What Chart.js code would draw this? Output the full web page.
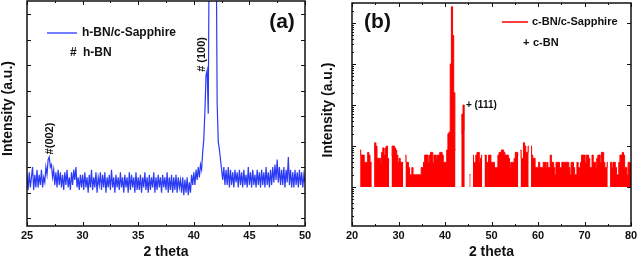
<!DOCTYPE html>
<html>
<head>
<meta charset="utf-8">
<script src="https://cdn.jsdelivr.net/npm/chart.js@4.4.1/dist/chart.umd.min.js"></script>
<style>
html, body { margin: 0; padding: 0; background: #fff; }
#wrap { position: relative; width: 641px; height: 265px; overflow: hidden; }
#chartA { position: absolute; left: 0; top: 0; }
#chartB { position: absolute; left: 320px; top: 0; }
</style>
</head>
<body>
<div id="wrap">
  <canvas id="chartA" width="320" height="265"></canvas>
  <canvas id="chartB" width="321" height="265"></canvas>
</div>
<script>
// (a) h-BN/c-Sapphire, read every 0.1 deg from 25.0 to 50.0 (arb. units)
const thetaStartA = 25, thetaStepA = 0.1;
const intensityA = [
  1.7,1.1,1.8,1.2,1.6,2.0,1.1,1.7,1.2,1.9,   // 25
  1.2,1.7,1.3,1.9,1.2,1.6,1.4,2.0,1.7,2.3,   // 26
  2.4,2.0,2.1,1.6,1.9,1.3,1.8,1.2,1.9,1.3,   // 27
  1.8,1.2,1.7,1.1,1.8,1.3,1.9,1.2,1.6,1.1,   // 28
  1.8,1.3,1.9,1.5,2.0,1.2,1.6,1.1,1.7,1.2,   // 29
  1.7,1.1,1.8,1.2,1.6,1.0,1.7,1.2,1.9,1.1,   // 30
  1.6,1.2,1.8,1.0,1.6,1.3,1.8,1.1,1.7,1.2,   // 31
  1.8,1.0,1.6,1.2,1.7,1.1,1.9,1.2,1.6,1.0,   // 32
  1.7,1.2,1.6,1.1,1.8,1.2,1.6,1.0,1.7,1.2,   // 33
  1.6,1.0,1.8,1.1,1.7,1.2,1.6,1.0,1.8,1.1,   // 34
  1.6,1.1,1.7,1.0,1.6,1.2,1.8,1.1,1.6,1.0,   // 35
  1.7,1.1,1.6,1.2,1.8,1.0,1.6,1.1,1.7,1.2,   // 36
  1.6,1.0,1.7,1.2,1.6,1.1,1.8,1.0,1.6,1.1,   // 37
  1.7,1.0,1.6,1.1,1.7,1.0,1.6,1.2,1.5,1.0,   // 38
  1.6,0.9,1.5,1.0,1.6,0.9,1.4,1.0,1.7,1.3,   // 39
  1.8,1.3,1.9,1.5,2.0,1.6,2.1,1.9,2.6,3.1,   // 40
  4.2,5.6,5.8,4.1,12,12,12,12,12,12,         // 41
  12,4.5,3.0,2.7,2.3,1.9,1.5,2.0,1.3,1.9,    // 42
  1.3,2.0,1.2,1.9,1.3,1.8,1.2,1.9,1.4,1.8,   // 43
  1.2,1.9,1.3,1.8,1.2,1.9,1.3,1.7,1.2,2.0,   // 44
  1.3,1.8,1.2,1.9,1.3,1.7,1.2,1.9,1.3,1.8,   // 45
  1.2,1.9,1.3,1.8,1.2,2.0,1.3,1.8,1.2,1.9,   // 46
  1.3,2.0,1.4,2.1,1.5,2.3,1.4,2.0,1.3,1.9,   // 47
  1.3,2.0,1.2,1.9,1.4,2.4,1.3,1.9,1.2,1.8,   // 48
  1.2,1.9,1.3,1.8,1.2,1.9,1.3,1.8,1.2,1.7,   // 49
  1.4                                        // 50
];
const xTicksA = [25, 30, 35, 40, 45, 50];
const xMinorA = [27.5, 32.5, 37.5, 42.5, 47.5];
const yTicksA = [0, 1, 2, 3, 4, 5, 6, 7, 8];

// (b) c-BN/c-Sapphire, counts on a log axis, every 0.25 deg from 21.75 to 80; null = no counts
const thetaStartB = 21.75, thetaStepB = 0.25;
const countsB = [
  8,
  6,6,6,4,      // 22
  4,4,7,6,      // 23
  4,4,null,7,   // 24
  12,10,5,5,    // 25
  5,4,7,9,      // 26
  6,9,10,5,     // 27
  4,null,6,10,  // 28
  10,9,8,6,     // 29
  4,5,4,4,      // 30
  4,null,6,4,   // 31
  4,3,2,2,      // 32
  3,2,2,2,      // 33
  2,2,2,2,      // 34
  3,3,4,6,      // 35
  6,6,4,6,      // 36
  7,7,4,6,      // 37
  6,5,6,6,      // 38
  7,7,6,4,      // 39
  4,4,8,20,     // 40
  22,1000,25000,5000, // 41
  200,8,null,null,    // 42
  null,null,20,60,    // 43
  100,25,null,2,      // 44
  null,2,2,null,     // 45
  6,4,4,6,      // 46
  7,7,4,5,      // 47
  6,null,6,6,   // 48
  4,4,6,6,      // 49
  4,4,4,3,      // 50
  3,3,6,7,      // 51
  7,8,8,7,      // 52
  6,6,6,5,      // 53
  3,4,4,4,      // 54
  5,7,7,6,      // 55
  null,8,5,5,   // 56
  12,10,7,7,    // 57
  10,null,10,6, // 58
  5,5,3,3,      // 59
  3,4,3,3,      // 60
  3,4,4,3,      // 61
  4,3,3,6,      // 62
  4,4,3,2,      // 63
  4,4,4,3,      // 64
  3,4,4,4,      // 65
  4,4,4,3,      // 66
  2,4,4,3,      // 67
  2,2,4,3,      // 68
  3,4,6,6,      // 69
  6,4,6,6,      // 70
  5,3,3,6,      // 71
  4,4,3,5,      // 72
  6,6,4,7,      // 73
  7,4,3,3,      // 74
  4,null,4,4,   // 75
  3,4,4,3,      // 76
  2,2,4,6,      // 77
  6,7,6,3,      // 78
  3,2,4,4,      // 79
  3             // 80
];
const xTicksB = [20, 30, 40, 50, 60, 70, 80];
const xMinorB = [25, 35, 45, 55, 65, 75];
const yTicksB = [1, 10, 100, 1000, 10000];

const FONT = "'Liberation Sans', Arial, sans-serif";
Chart.defaults.font.family = FONT;
Chart.defaults.font.weight = 'bold';
Chart.defaults.color = '#111';

// inward tick marks on all four sides plus the closed frame
function frameTicks(xMajor, xMinor, yMajor, yMinorLeft) {
  return {
    id: 'frameTicks',
    afterDatasetsDraw(chart) {
      const { ctx, chartArea: a, scales: { x, y } } = chart;
      ctx.save();
      ctx.strokeStyle = '#111';
      ctx.lineWidth = 1;
      const seg = (x1, y1, x2, y2) => { ctx.beginPath(); ctx.moveTo(x1, y1); ctx.lineTo(x2, y2); ctx.stroke(); };
      xMajor.forEach(v => {
        const p = Math.round(x.getPixelForValue(v)) + 0.5;
        seg(p, a.bottom, p, a.bottom - 4); seg(p, a.top, p, a.top + 4);
      });
      xMinor.forEach(v => {
        const p = Math.round(x.getPixelForValue(v)) + 0.5;
        seg(p, a.bottom, p, a.bottom - 2); seg(p, a.top, p, a.top + 2);
      });
      yMajor.forEach(v => {
        const p = Math.round(y.getPixelForValue(v)) + 0.5;
        seg(a.left, p, a.left + 4, p); seg(a.right, p, a.right - 4, p);
      });
      yMinorLeft.forEach(v => {
        const p = Math.round(y.getPixelForValue(v)) + 0.5;
        if (p > a.top && p < a.bottom) seg(a.left, p, a.left + 2, p);
      });
      ctx.lineWidth = 1.5;
      ctx.strokeRect(a.left, a.top, a.right - a.left, a.bottom - a.top);
      ctx.restore();
    }
  };
}

function text(ctx, str, x, y, size, align) {
  ctx.font = 'bold ' + size + 'px ' + FONT;
  ctx.textAlign = align || 'left';
  ctx.textBaseline = 'middle';
  ctx.fillText(str, x, y);
}

function vText(ctx, str, x, y, size, align) {
  ctx.save();
  ctx.translate(x, y);
  ctx.rotate(-Math.PI / 2);
  text(ctx, str, 0, 0, size, align || 'left');
  ctx.restore();
}

const labelsA = {
  id: 'labelsA',
  afterDraw(chart) {
    const { ctx, chartArea: a, scales: { x, y } } = chart;
    ctx.save();
    ctx.fillStyle = '#111';
    vText(ctx, 'Intensity (a.u.)', 8.5, a.top + 107.5, 14, 'center');
    text(ctx, '(a)', a.right - 23, a.top + 21, 21, 'center');
    ctx.strokeStyle = '#4455ff'; ctx.lineWidth = 1.5;
    ctx.beginPath(); ctx.moveTo(a.left + 20, a.top + 32); ctx.lineTo(a.left + 50, a.top + 32); ctx.stroke();
    text(ctx, 'h-BN/c-Sapphire', a.left + 55, a.top + 32, 12);
    text(ctx, '#', a.left + 43, a.top + 52, 12);
    text(ctx, 'h-BN', a.left + 56, a.top + 52, 12);
    vText(ctx, '#(002)', x.getPixelForValue(27.05), y.getPixelForValue(2.5), 11);
    vText(ctx, '# (100)', x.getPixelForValue(40.74), y.getPixelForValue(5.74), 11);
    ctx.restore();
  }
};

const labelsB = {
  id: 'labelsB',
  afterDraw(chart) {
    const { ctx, chartArea: a, scales: { x, y } } = chart;
    ctx.save();
    ctx.fillStyle = '#111';
    vText(ctx, 'Intensity (a.u.)', 8.5, a.top + 107, 14, 'center');
    text(ctx, '(b)', a.left + 25.5, a.top + 19, 21, 'center');
    ctx.strokeStyle = '#ff0000'; ctx.lineWidth = 1.5;
    ctx.beginPath(); ctx.moveTo(a.right - 129, a.top + 19); ctx.lineTo(a.right - 103, a.top + 19); ctx.stroke();
    text(ctx, 'c-BN/c-Sapphire', a.right - 99, a.top + 19, 11);
    text(ctx, '+', a.right - 108, a.top + 40, 11);
    text(ctx, 'c-BN', a.right - 98, a.top + 40, 11);
    text(ctx, '+ (111)', x.getPixelForValue(44.5), y.getPixelForValue(100), 10);
    ctx.restore();
  }
};

function xAxis(min, max, step) {
  return {
    type: 'linear', min, max,
    grid: { display: false, drawTicks: false },
    border: { display: false },
    ticks: { stepSize: step, autoSkip: false, maxRotation: 0, padding: 3, font: { size: 11, weight: 'bold' }, color: '#111' },
    title: { display: true, text: '2 theta', font: { size: 14, weight: 'bold' }, color: '#111', padding: { top: 0, bottom: 4 } },
    afterFit: s => { s.height = 39; }
  };
}

const minorLogB = [];
[0.1, 1, 10, 100, 1000, 10000].forEach(d => { for (let k = 2; k <= 9; k++) minorLogB.push(d * k); });

new Chart(document.getElementById('chartA'), {
  type: 'line',
  data: {
    datasets: [{
      data: intensityA.map((v, i) => ({ x: thetaStartA + i * thetaStepA, y: v })),
      borderColor: '#2a3af5',
      borderWidth: 1.2,
      pointRadius: 0,
      tension: 0
    }]
  },
  options: {
    responsive: false,
    animation: false,
    layout: { padding: { left: 0, right: 15, top: 1, bottom: 0 } },
    plugins: { legend: { display: false }, tooltip: { enabled: false } },
    scales: {
      x: xAxis(25, 50, 5),
      y: {
        type: 'linear', min: -0.31, max: 8.52,
        grid: { display: false, drawTicks: false },
        border: { display: false },
        ticks: { display: false },
        afterFit: s => { s.width = 27; }
      }
    }
  },
  plugins: [frameTicks(xTicksA, xMinorA, yTicksA, []), labelsA]
});

new Chart(document.getElementById('chartB'), {
  type: 'line',
  data: {
    datasets: [{
      data: countsB.map((v, i) => ({ x: thetaStartB + i * thetaStepB, y: v })),
      borderColor: '#ff0000',
      backgroundColor: '#ff0000',
      borderWidth: 1,
      pointRadius: 0,
      stepped: 'middle',
      spanGaps: false,
      fill: { value: 1 }
    }]
  },
  options: {
    responsive: false,
    animation: false,
    layout: { padding: { left: 0, right: 10, top: 3, bottom: 0 } },
    plugins: { legend: { display: false }, tooltip: { enabled: false } },
    scales: {
      x: xAxis(20, 80, 10),
      y: {
        type: 'logarithmic', min: 0.112, max: 30760,
        grid: { display: false, drawTicks: false },
        border: { display: false },
        ticks: { display: false },
        afterFit: s => { s.width = 32; }
      }
    }
  },
  plugins: [frameTicks(xTicksB, xMinorB, yTicksB, minorLogB), labelsB]
});
</script>
</body>
</html>
